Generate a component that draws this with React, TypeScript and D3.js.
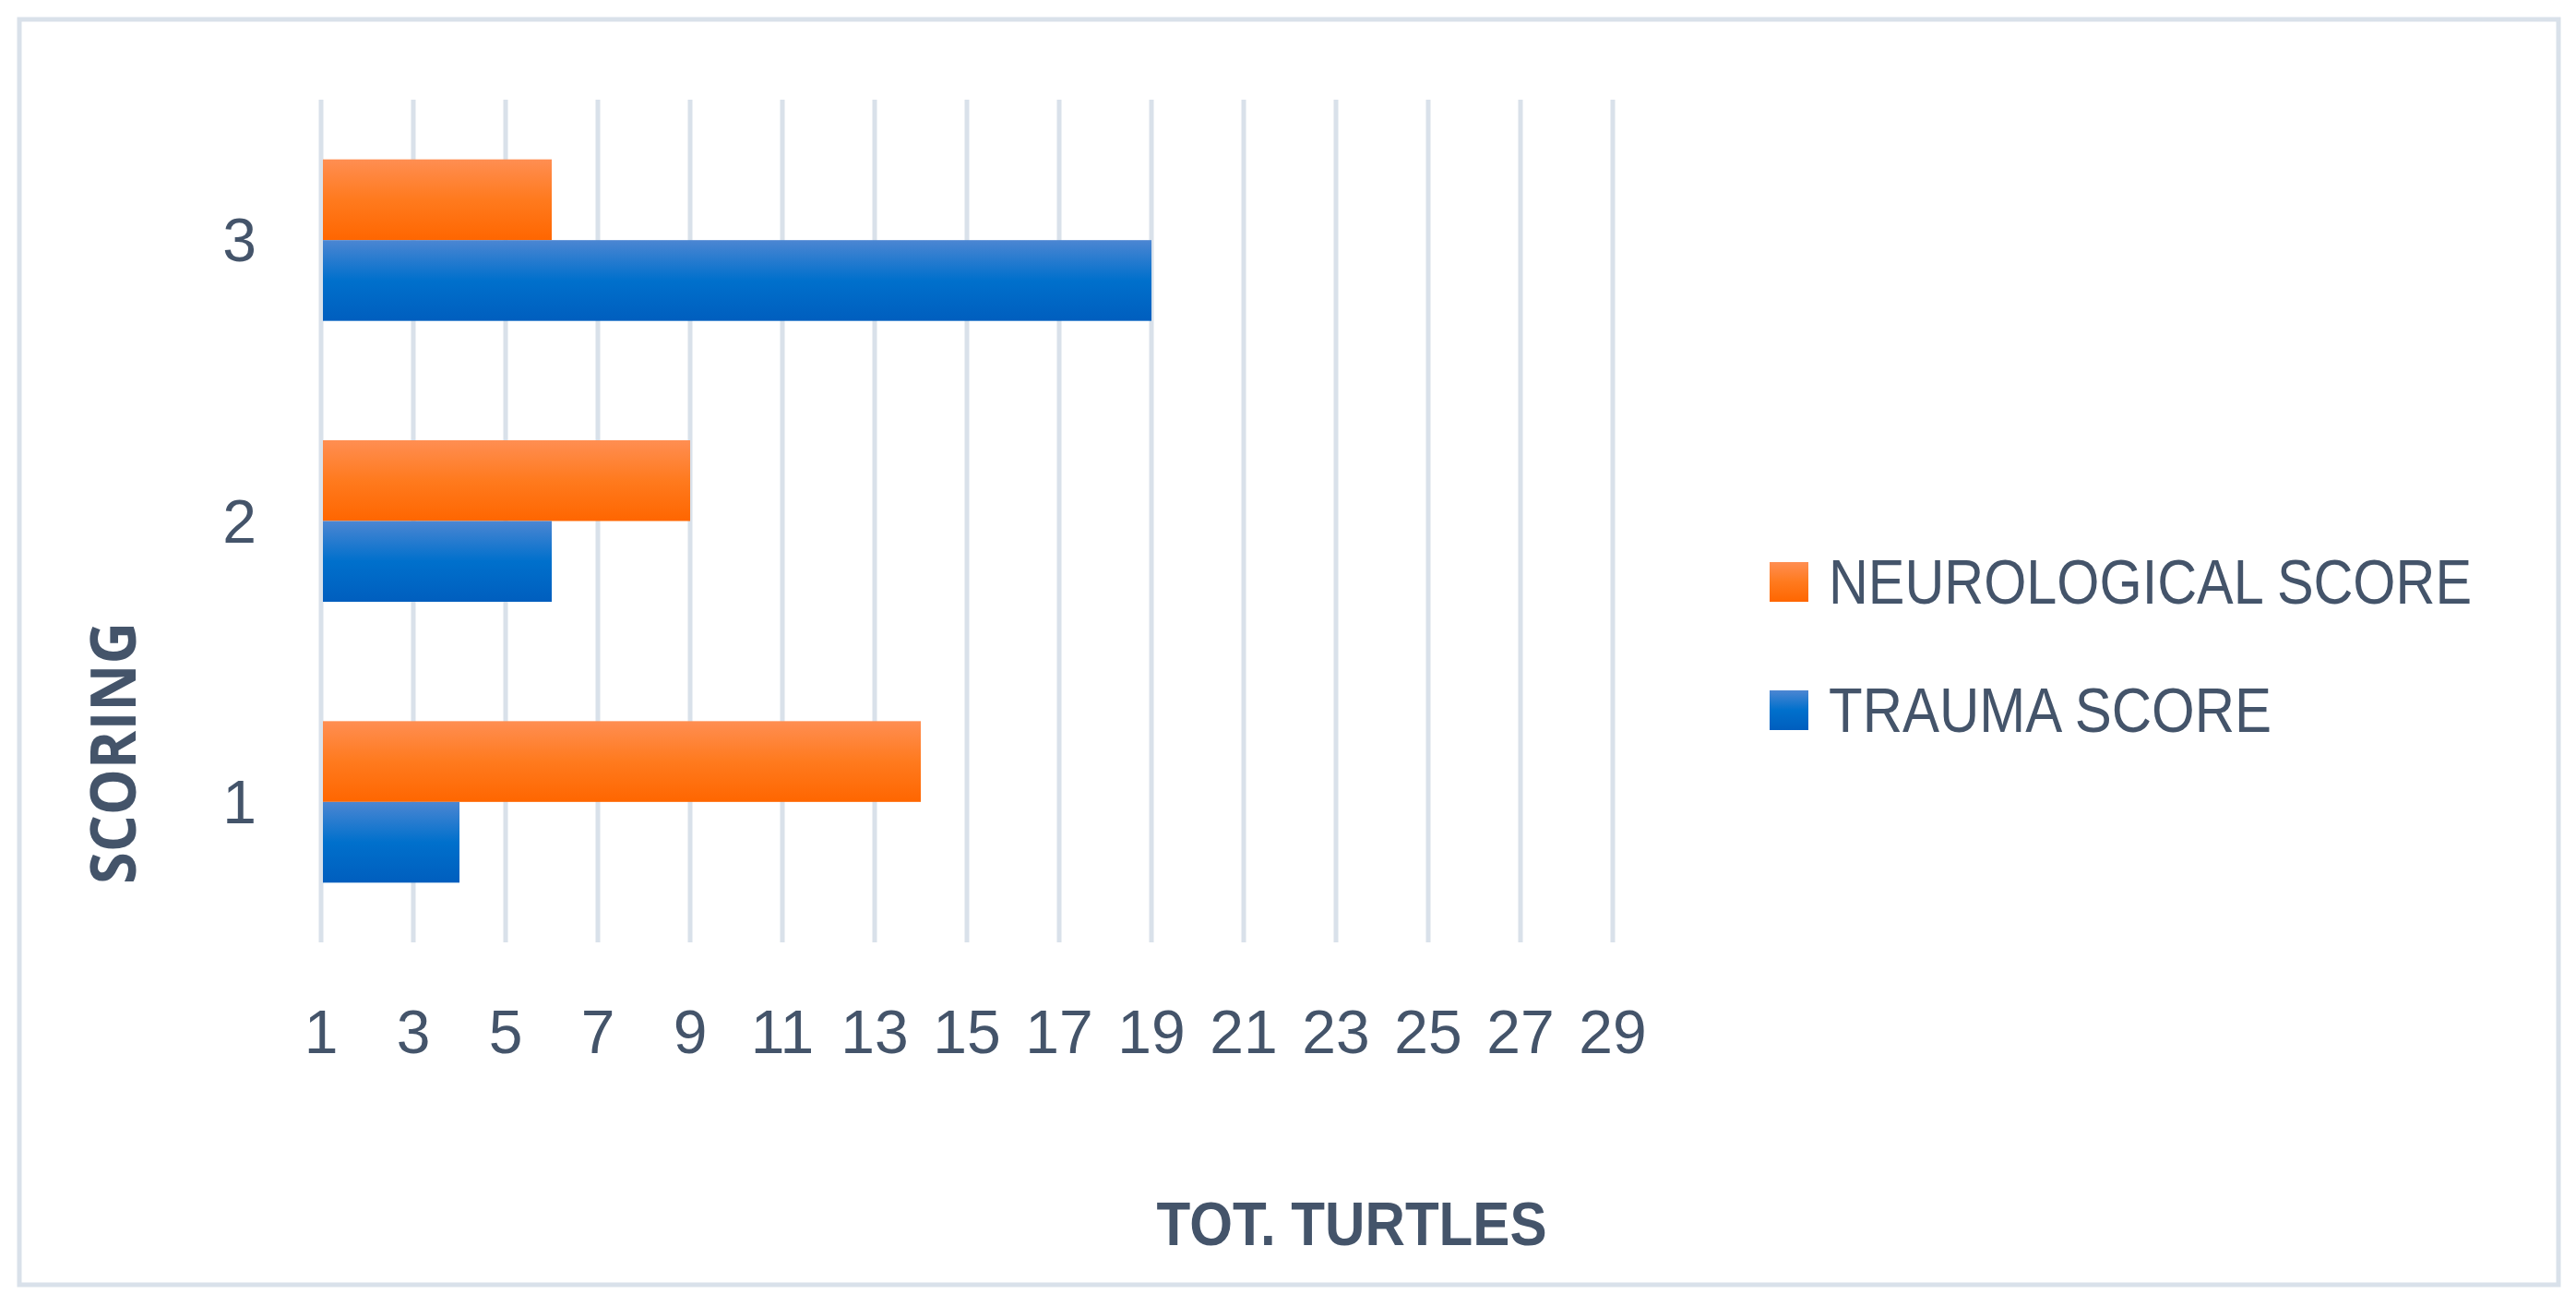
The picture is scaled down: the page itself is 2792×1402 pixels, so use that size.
import * as d3 from 'd3';

const categories = ['1', '2', '3'];
const seriesNames = ['NEUROLOGICAL SCORE', 'TRAUMA SCORE'];
const neurologicalScore = [14, 9, 6];
const traumaScore = [4, 6, 19];
const xTicks = [1, 3, 5, 7, 9, 11, 13, 15, 17, 19, 21, 23, 25, 27, 29];

const WIDTH = 2792;
const HEIGHT = 1402;
const TEXT = '#44546A';
const GRID = '#D9E1EA';
const FONT = "'Liberation Sans Narrow', 'Liberation Sans', Arial, sans-serif";

export default function App() {
  const x = d3.scaleLinear().domain([1, 29]).range([348, 1748]);
  const y = d3
    .scaleBand<string>()
    .domain([...categories].reverse())
    .range([108, 1021])
    .paddingInner(0.425)
    .paddingOuter(0.2125);
  const inner = d3
    .scaleBand<string>()
    .domain(seriesNames)
    .range([0, y.bandwidth()]);

  const series = [
    { name: seriesNames[0], values: neurologicalScore, fill: 'url(#gradOrange)' },
    { name: seriesNames[1], values: traumaScore, fill: 'url(#gradBlue)' }
  ];

  const legendY = d3.scalePoint<string>().domain(seriesNames).range([631, 770]);

  return (
    <svg
      width={WIDTH}
      height={HEIGHT}
      style={{ position: 'absolute', left: 0, top: 0, background: '#fff' }}
    >
      <defs>
        <linearGradient id="gradOrange" x1="0" y1="0" x2="0" y2="1">
          <stop offset="0" stopColor="#FF8E52" />
          <stop offset="0.5" stopColor="#FF7A1E" />
          <stop offset="1" stopColor="#FF6600" />
        </linearGradient>
        <linearGradient id="gradBlue" x1="0" y1="0" x2="0" y2="1">
          <stop offset="0" stopColor="#4C86D2" />
          <stop offset="0.5" stopColor="#0070CC" />
          <stop offset="1" stopColor="#005EBE" />
        </linearGradient>
      </defs>

      <rect x={21} y={21} width={2752} height={1371} fill="#fff" stroke={GRID} strokeWidth={5} />

      {xTicks.map(t => (
        <line key={t} x1={x(t)} x2={x(t)} y1={108} y2={1021} stroke={GRID} strokeWidth={5} />
      ))}

      {series.map(s =>
        categories.map((c, i) => (
          <rect
            key={s.name + c}
            x={x(1) + 2}
            y={(y(c) ?? 0) + (inner(s.name) ?? 0)}
            width={x(s.values[i]) - x(1) - 2}
            height={inner.bandwidth()}
            fill={s.fill}
          />
        ))
      )}

      {categories.map(c => (
        <text
          key={c}
          x={278}
          y={(y(c) ?? 0) + y.bandwidth() / 2 + 23}
          textAnchor="end"
          fontFamily={FONT}
          fontSize={66}
          fill={TEXT}
        >
          {c}
        </text>
      ))}

      {xTicks.map(t => (
        <text
          key={t}
          x={x(t)}
          y={1141}
          textAnchor="middle"
          fontFamily={FONT}
          fontSize={66}
          fill={TEXT}
        >
          {t}
        </text>
      ))}

      <text
        x={1465}
        y={1349}
        textAnchor="middle"
        fontFamily={FONT}
        fontWeight="bold"
        fontSize={66}
        fill={TEXT}
        textLength={423}
        lengthAdjust="spacingAndGlyphs"
      >
        TOT. TURTLES
      </text>

      <text
        transform="translate(147, 816) rotate(-90)"
        textAnchor="middle"
        fontFamily="'Open Sans', sans-serif"
        fontWeight="bold"
        fontSize={68}
        fill={TEXT}
        textLength={284}
        lengthAdjust="spacingAndGlyphs"
      >
        SCORING
      </text>

      {series.map(s => (
        <g key={s.name} transform={`translate(1918, ${legendY(s.name)})`}>
          <rect x={0} y={-22} width={42} height={43} fill={s.fill} />
          <text
            x={64}
            y={23}
            fontFamily={FONT}
            fontSize={68}
            fill={TEXT}
            textLength={s.name === seriesNames[0] ? 697 : 480}
            lengthAdjust="spacingAndGlyphs"
          >
            {s.name}
          </text>
        </g>
      ))}
    </svg>
  );
}
